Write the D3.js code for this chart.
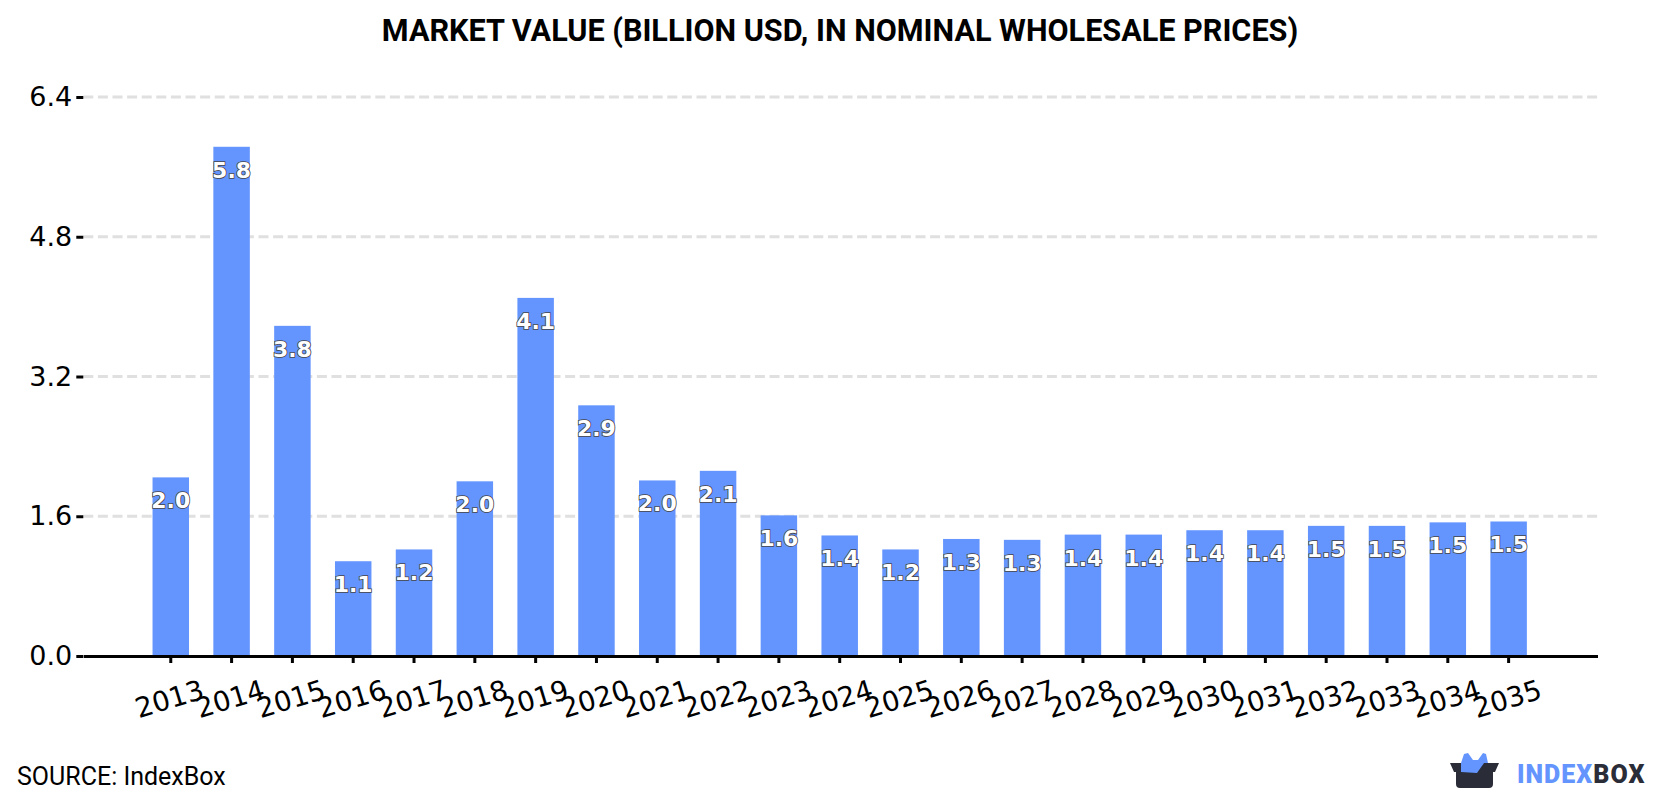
<!DOCTYPE html>
<html>
<head>
<meta charset="utf-8">
<script src="https://cdn.jsdelivr.net/npm/d3@7/dist/d3.min.js"></script>
<style>
html,body{margin:0;padding:0;background:#fff;}
svg{display:block;}
</style>
</head>
<body>
<svg id="chart" width="1680" height="800"></svg>
<script>
const years = ["2013","2014","2015","2016","2017","2018","2019","2020","2021","2022","2023","2024","2025","2026","2027","2028","2029","2030","2031","2032","2033","2034","2035"];
const marketValue = [2.045,5.83,3.78,1.085,1.22,2.0,4.10,2.87,2.01,2.12,1.61,1.38,1.22,1.34,1.33,1.39,1.39,1.44,1.44,1.49,1.49,1.53,1.54];
const yTicks = [0,1.6,3.2,4.8,6.4];
const titleText = "MARKET VALUE (BILLION USD, IN NOMINAL WHOLESALE PRICES)";
const sourceText = "SOURCE: IndexBox";

const svg = d3.select("#chart");
const plotLeft = 83.3, plotRight = 1597.5, plotTop = 97, plotBottom = 656;
const tickFont = "'DejaVu Sans'";

const x = d3.scaleBand().domain(years).range([plotLeft, plotRight]).paddingInner(0.4).paddingOuter(1.15).align(0.495);
const y = d3.scaleLinear().domain([0, 6.4]).range([plotBottom, plotTop]);

svg.append("text").attr("x", 840).attr("y", 41).attr("text-anchor", "middle")
  .attr("font-family", "Roboto").attr("font-weight", 700).attr("font-size", 30.6).attr("fill", "#000")
  .text(titleText);

// Dashed horizontal grid, hidden behind the bars
svg.append("g").selectAll("line").data(yTicks.filter(d => d > 0)).join("line")
  .attr("x1", plotLeft).attr("x2", plotRight)
  .attr("y1", d => y(d)).attr("y2", d => y(d))
  .attr("stroke", "#e0e0e0").attr("stroke-width", 3).attr("stroke-dasharray", "10 4.6");

svg.append("g").selectAll("rect").data(marketValue).join("rect")
  .attr("x", (d, i) => x(years[i])).attr("width", x.bandwidth())
  .attr("y", d => y(d)).attr("height", d => plotBottom - y(d))
  .attr("fill", "#6495ff");

// Value axis
const yAxis = svg.append("g").attr("transform", `translate(${plotLeft},0)`)
  .call(d3.axisLeft(y).tickValues(yTicks).tickFormat(d3.format(".1f")).tickSize(7).tickPadding(4));
yAxis.select(".domain").remove();
yAxis.selectAll("line").attr("stroke", "#000").attr("stroke-width", 3);
yAxis.selectAll("text").attr("font-family", tickFont).attr("font-size", 27).attr("fill", "#000");

// Year axis with slanted labels
const xAxis = svg.append("g").attr("transform", `translate(0,${plotBottom})`)
  .call(d3.axisBottom(x).tickSize(7).tickPadding(0).tickSizeOuter(0));
xAxis.select(".domain").attr("stroke", "#000").attr("stroke-width", 3);
xAxis.selectAll("line").attr("stroke", "#000").attr("stroke-width", 3);
xAxis.selectAll("text")
  .attr("font-family", tickFont).attr("font-size", 27.5).attr("fill", "#000")
  .attr("text-anchor", "middle").attr("dy", null).attr("y", 0)
  .attr("transform", "translate(1.5,52) rotate(-17)");

// Value labels just inside the top of each bar
svg.append("g").selectAll("text").data(marketValue).join("text")
  .attr("x", (d, i) => x(years[i]) + x.bandwidth() / 2)
  .attr("y", d => y(d) + 31)
  .attr("text-anchor", "middle")
  .attr("font-family", tickFont).attr("font-weight", 700).attr("font-size", 22)
  .attr("fill", "#fff").attr("stroke", "#444").attr("stroke-width", 1.6)
  .attr("paint-order", "stroke")
  .text(d => d3.format(".1f")(d));

svg.append("text").attr("x", 17).attr("y", 785)
  .attr("font-family", "Roboto").attr("font-size", 25).attr("fill", "#000")
  .text(sourceText);

// IndexBox logo mark and wordmark
const logo = svg.append("g");
logo.append("path")
  .attr("d", "M1461 763 L1464 754 L1468 753 L1473 760 L1478 760 L1483 753 L1486 754 L1490 772 L1470 772 Z")
  .attr("fill", "#6495ff");
logo.append("path")
  .attr("d", "M1450 763 L1499 763 L1495 772 L1493 772 L1493 784 Q1493 788 1489 788 L1460 788 Q1456 788 1456 784 L1456 772 L1454 772 Z")
  .attr("fill", "#2a2c38");
logo.append("path")
  .attr("d", "M1461 763 L1484 763 L1477 773 L1461 772 Z")
  .attr("fill", "#6495ff");
const word = logo.append("text").attr("x", 1517).attr("y", 783)
  .attr("font-family", "Roboto").attr("font-weight", 900).attr("font-size", 25).attr("letter-spacing", 1);
word.append("tspan").attr("fill", "#6495ff").text("INDEX");
word.append("tspan").attr("fill", "#2a2c38").text("BOX");
</script>
</body>
</html>
